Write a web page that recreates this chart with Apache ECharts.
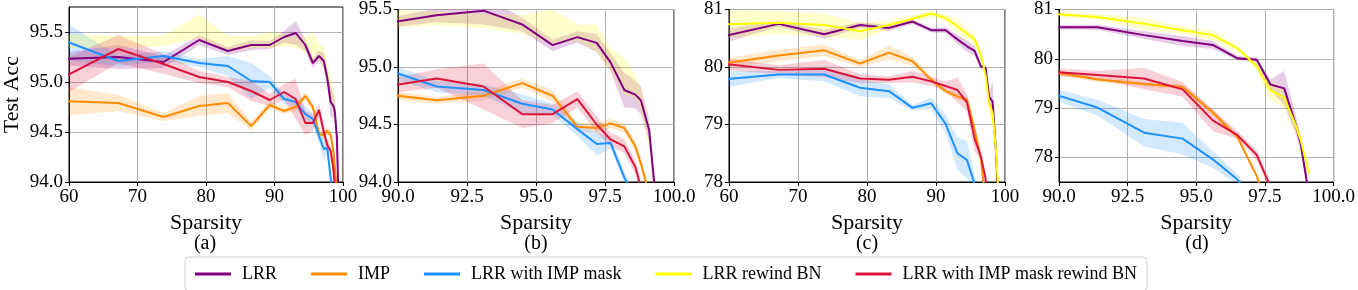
<!DOCTYPE html>
<html>
<head>
<meta charset="utf-8">
<script src="https://cdn.jsdelivr.net/npm/echarts@6/dist/echarts.min.js"></script>
<style>
html, body { margin: 0; padding: 0; background: #fff; }
#chart { width: 1358px; height: 290px; }
</style>
</head>
<body>
<div id="chart"></div>
<script>
// pruning levels (%), shared by every panel
const sparsity = [59.0, 67.2, 73.8, 79.0, 83.2, 86.6, 89.3, 91.4, 93.1, 94.5, 95.6, 96.5, 97.2, 97.7, 98.2, 98.6, 98.8, 99.1, 99.3];

// panels (a)/(b): mean test acc and half band width
const c10Lrr = [95.23, 95.25, 95.20, 95.42, 95.31, 95.37, 95.37, 95.45, 95.49, 95.37, 95.19, 95.26, 95.21, 95.04, 94.80, 94.76, 94.71, 94.45, 93.95];
const c10LrrSd = [0.06, 0.12, 0.06, 0.05, 0.04, 0.05, 0.04, 0.06, 0.12, 0.06, 0.05, 0.05, 0.08, 0.08, 0.15, 0.12, 0.12, 0.1, 0.1];
const c10Imp = [94.81, 94.79, 94.65, 94.76, 94.79, 94.56, 94.77, 94.71, 94.75, 94.86, 94.75, 94.48, 94.47, 94.51, 94.47, 94.31, 94.16, 93.90, 93.60];
const c10ImpSd = [0.15, 0.08, 0.04, 0.1, 0.1, 0.04, 0.04, 0.03, 0.04, 0.04, 0.05, 0.04, 0.04, 0.04, 0.04, 0.05, 0.05, 0.05, 0.05];
const c10Mask = [95.42, 95.21, 95.26, 95.19, 95.16, 95.01, 95.00, 94.83, 94.80, 94.68, 94.63, 94.46, 94.33, 94.34, 94.04, 93.85, 93.70, 93.50, 93.30];
const c10MaskSd = [0.2, 0.05, 0.05, 0.04, 0.1, 0.18, 0.06, 0.05, 0.05, 0.08, 0.05, 0.06, 0.1, 0.05, 0.05, 0.05, 0.05, 0.05, 0.05];
const c10Rewind = [95.41, 95.40, 95.41, 95.56, 95.38, 95.40, 95.42, 95.42, 95.40, 95.37, 95.35, 95.30, 95.25, 95.06, 94.92, 94.83, 94.72, 94.40, 93.90];
const c10RewindSd = [0.07, 0.06, 0.05, 0.12, 0.08, 0.06, 0.08, 0.06, 0.06, 0.08, 0.15, 0.07, 0.12, 0.1, 0.16, 0.1, 0.1, 0.1, 0.1];
const c10MaskRewind = [95.04, 95.33, 95.18, 95.05, 95.00, 94.91, 94.82, 94.90, 94.83, 94.59, 94.59, 94.72, 94.50, 94.37, 94.31, 94.13, 93.95, 93.70, 93.50];
const c10MaskRewindSd = [0.18, 0.14, 0.1, 0.06, 0.05, 0.1, 0.06, 0.08, 0.2, 0.12, 0.08, 0.07, 0.07, 0.06, 0.06, 0.06, 0.06, 0.06, 0.06];

// panels (c)/(d)
const c100Lrr = [80.53, 80.75, 80.57, 80.73, 80.68, 80.79, 80.64, 80.64, 80.48, 80.36, 80.28, 80.01, 79.98, 79.48, 79.40, 78.70, 78.28, 77.25, 76.50];
const c100LrrSd = [0.12, 0.05, 0.08, 0.05, 0.05, 0.04, 0.04, 0.05, 0.08, 0.1, 0.08, 0.04, 0.05, 0.1, 0.35, 0.2, 0.15, 0.1, 0.1];
const c100Imp = [80.06, 80.20, 80.29, 80.06, 80.25, 80.10, 79.78, 79.58, 79.49, 79.43, 78.91, 78.41, 77.62, 76.80, 76.00, 75.20, 74.80, 74.00, 73.20];
const c100ImpSd = [0.08, 0.1, 0.1, 0.06, 0.12, 0.08, 0.05, 0.05, 0.05, 0.05, 0.06, 0.06, 0.06, 0.06, 0.06, 0.06, 0.06, 0.06, 0.06];
const c100Mask = [79.78, 79.87, 79.87, 79.64, 79.58, 79.29, 79.37, 79.01, 78.50, 78.38, 77.96, 77.55, 77.00, 76.50, 75.80, 75.00, 74.50, 73.50, 72.50];
const c100MaskSd = [0.15, 0.06, 0.12, 0.15, 0.12, 0.05, 0.1, 0.16, 0.28, 0.32, 0.17, 0.1, 0.1, 0.1, 0.1, 0.1, 0.1, 0.1, 0.1];
const c100Rewind = [80.74, 80.77, 80.73, 80.62, 80.73, 80.84, 80.93, 80.85, 80.71, 80.58, 80.48, 80.21, 79.85, 79.36, 79.21, 78.68, 78.35, 77.67, null];
const c100RewindSd = [0.25, 0.2, 0.2, 0.15, 0.08, 0.06, 0.05, 0.06, 0.12, 0.08, 0.1, 0.06, 0.08, 0.2, 0.2, 0.15, 0.1, 0.08, null];
const c100MaskRewind = [80.06, 79.95, 79.97, 79.80, 79.78, 79.83, 79.75, 79.67, 79.60, 79.38, 78.75, 78.45, 78.05, 77.40, 76.50, 75.50, 75.00, 74.00, 73.00];
const c100MaskRewindSd = [0.1, 0.08, 0.15, 0.08, 0.06, 0.1, 0.08, 0.08, 0.22, 0.15, 0.22, 0.08, 0.1, 0.1, 0.1, 0.1, 0.1, 0.1, 0.1];

// tick labels
const yTicksA = [94.0, 94.5, 95.0, 95.5];
const yTicksB = [94.0, 94.5, 95.0, 95.5];
const yTicksC = [78, 79, 80, 81];
const yTicksD = [78, 79, 80, 81];
const captions = ['(a)', '(b)', '(c)', '(d)'];

const names = ['LRR', 'IMP', 'LRR with IMP mask', 'LRR rewind BN', 'LRR with IMP mask rewind BN'];
const colors = ['#800080', '#ff8c00', '#1e90ff', '#ffff00', '#dc143c'];
const serif = 'Liberation Serif, DejaVu Serif, serif';

const c10 = [
    {mean: c10Lrr, sd: c10LrrSd, line: true},
    {mean: c10Imp, sd: c10ImpSd, line: true},
    {mean: c10Mask, sd: c10MaskSd, line: true},
    {mean: c10Rewind, sd: c10RewindSd, line: false},   // only the band shows here
    {mean: c10MaskRewind, sd: c10MaskRewindSd, line: true}
];
const c100 = [
    {mean: c100Lrr, sd: c100LrrSd, line: true},
    {mean: c100Imp, sd: c100ImpSd, line: true},
    {mean: c100Mask, sd: c100MaskSd, line: true},
    {mean: c100Rewind, sd: c100RewindSd, line: true},
    {mean: c100MaskRewind, sd: c100MaskRewindSd, line: true}
];

const panels = [
    {left: 67, xMin: 60, xMax: 100, xStep: 10, xDigits: 0, yMin: 94, yMax: 95.75, yTicks: yTicksA, yDigits: 1, data: c10},
    {left: 398, xMin: 90, xMax: 100, xStep: 2.5, xDigits: 1, yMin: 94, yMax: 95.5, yTicks: yTicksB, yDigits: 1, data: c10},
    {left: 729, xMin: 60, xMax: 100, xStep: 10, xDigits: 0, yMin: 78, yMax: 81, yTicks: yTicksC, yDigits: 0, data: c100},
    {left: 1059, xMin: 90, xMax: 100, xStep: 2.5, xDigits: 1, yMin: 77.5, yMax: 81, yTicks: yTicksD, yDigits: 0, data: c100}
];

function fade(hex, a) {
    const n = parseInt(hex.slice(1), 16);
    return 'rgba(' + (n >> 16) + ',' + ((n >> 8) & 255) + ',' + (n & 255) + ',' + a + ')';
}

// std band as one polygon, drawn through the axis scales
function band(gi, s, color) {
    return {
        type: 'custom', xAxisIndex: gi, yAxisIndex: gi, silent: true, clip: true, z: 2,
        data: sparsity.map((x, i) => [x, s.mean[i] == null ? null : s.mean[i] - s.sd[i], s.mean[i] == null ? null : s.mean[i] + s.sd[i]]),
        encode: {x: 0, y: [1, 2]},
        renderItem: (params, api) => {
            if (params.dataIndex !== 0) return;
            let up = [], lo = [];
            sparsity.forEach((x, i) => {
                if (s.mean[i] == null) return;
                up.push(api.coord([x, s.mean[i] + s.sd[i]]));
                lo.push(api.coord([x, s.mean[i] - s.sd[i]]));
            });
            return {
                type: 'polygon',
                shape: {points: up.concat(lo.reverse())},
                style: {fill: fade(color, 0.2), stroke: null}
            };
        }
    };
}

let grid = [], xAxis = [], yAxis = [], series = [], graphic = [];

panels.forEach((p, gi) => {
    grid.push({left: p.left, top: 7, width: 276, height: 175, show: true, borderColor: '#000', borderWidth: 1});
    xAxis.push({
        type: 'value', gridIndex: gi, min: p.xMin, max: p.xMax, interval: p.xStep,
        name: 'Sparsity', nameLocation: 'middle', nameGap: 27,
        nameTextStyle: {fontFamily: serif, fontSize: 22, color: '#000'},
        axisLine: {lineStyle: {color: '#000', width: 1}},
        axisTick: {show: true, length: 4, lineStyle: {color: '#000'}},
        axisLabel: {fontFamily: serif, fontSize: 19, color: '#000', margin: 6,
            formatter: v => v.toFixed(p.xDigits)},
        splitLine: {show: true, lineStyle: {color: '#b0b0b0', width: 1}}
    });
    yAxis.push({
        type: 'value', gridIndex: gi, min: p.yMin, max: p.yMax,
        name: gi === 0 ? 'Test Acc' : '', nameLocation: 'middle', nameGap: 46,
        nameTextStyle: {fontFamily: serif, fontSize: 22, color: '#000'},
        axisLine: {lineStyle: {color: '#000', width: 1}},
        axisTick: {show: true, length: 4, lineStyle: {color: '#000'}, customValues: p.yTicks},
        axisLabel: {fontFamily: serif, fontSize: 19, color: '#000', margin: 6, customValues: p.yTicks,
            formatter: v => v.toFixed(p.yDigits)},
        splitLine: {show: true, lineStyle: {color: '#b0b0b0', width: 1}}
    });

    p.data.forEach((s, k) => {
        series.push(band(gi, s, colors[k]));
        if (s.line) {
            series.push({
                name: names[k], type: 'line', xAxisIndex: gi, yAxisIndex: gi,
                symbol: 'none', z: 3,
                lineStyle: {color: colors[k], width: 2},
                itemStyle: {color: colors[k]},
                data: sparsity.map((x, i) => [x, s.mean[i]])
            });
        }
    });

    graphic.push({
        type: 'text', x: p.left + 138, y: 244,
        style: {text: captions[gi], font: '20px ' + serif, fill: '#000', align: 'center', verticalAlign: 'middle'}
    });
});

const chart = echarts.init(document.getElementById('chart'));
chart.setOption({
    animation: false,
    grid: grid,
    xAxis: xAxis,
    yAxis: yAxis,
    legend: {
        data: names, left: 185, top: 257, icon: 'rect', itemWidth: 36, itemHeight: 3, itemGap: 34,
        borderColor: '#cccccc', borderWidth: 1, borderRadius: 4, padding: [8, 10],
        textStyle: {fontFamily: serif, fontSize: 18, color: '#000', padding: [0, 0, 0, 6]}
    },
    graphic: graphic,
    series: series
});
</script>
</body>
</html>
